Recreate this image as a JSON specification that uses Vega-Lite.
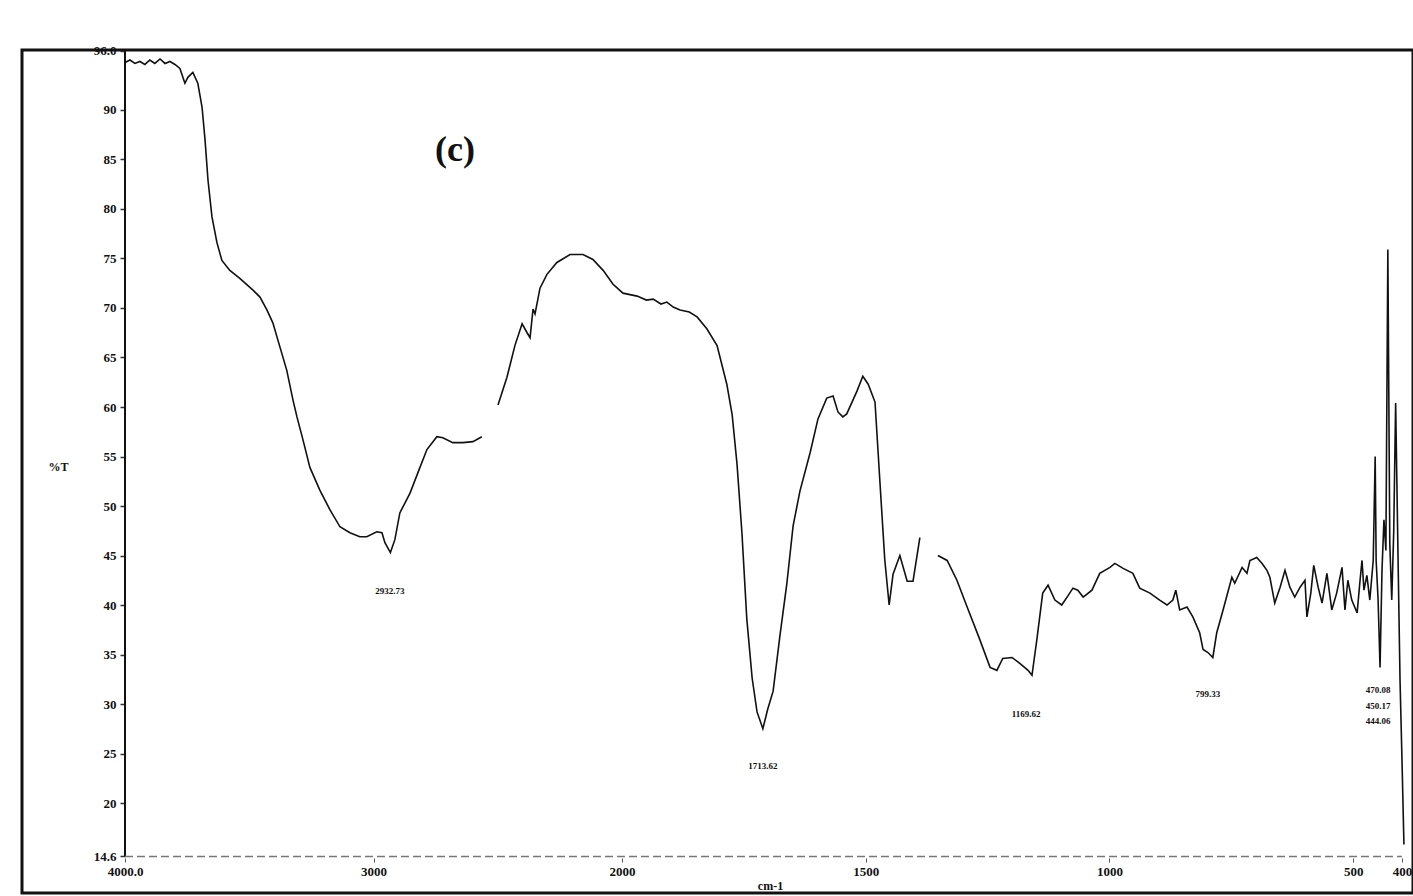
{
  "$schema": "https://vega.github.io/schema/vega-lite/v6.json",
  "autosize": {"type": "none"},
  "padding": {"left": 22, "top": 50, "right": 0, "bottom": 3},
  "width": 1391,
  "height": 843,
  "background": "white",
  "config": {
    "font": "Liberation Serif",
    "view": {"stroke": "#111", "strokeWidth": 3},
    "axis": {"grid": false, "labelFont": "Liberation Serif", "titleFont": "Liberation Serif", "labelFontWeight": "bold", "titleFontWeight": "bold", "labelColor": "#111", "titleColor": "#111", "tickColor": "#222"}
  },
  "datasets": {
    "spectrum": [
      {"wn": 4000, "t": 94.8, "seg": 1}, {"wn": 3980, "t": 95.05, "seg": 1}, {"wn": 3960, "t": 94.7, "seg": 1}, {"wn": 3940, "t": 94.9, "seg": 1},
      {"wn": 3920, "t": 94.6, "seg": 1}, {"wn": 3900, "t": 95.05, "seg": 1}, {"wn": 3880, "t": 94.7, "seg": 1}, {"wn": 3859, "t": 95.15, "seg": 1},
      {"wn": 3839, "t": 94.7, "seg": 1}, {"wn": 3819, "t": 94.9, "seg": 1}, {"wn": 3799, "t": 94.6, "seg": 1}, {"wn": 3779, "t": 94.2, "seg": 1},
      {"wn": 3759, "t": 92.7, "seg": 1}, {"wn": 3747, "t": 93.3, "seg": 1}, {"wn": 3727, "t": 93.8, "seg": 1}, {"wn": 3707, "t": 92.7, "seg": 1},
      {"wn": 3690, "t": 90.3, "seg": 1}, {"wn": 3678, "t": 87.0, "seg": 1}, {"wn": 3666, "t": 82.9, "seg": 1}, {"wn": 3650, "t": 79.2, "seg": 1},
      {"wn": 3630, "t": 76.6, "seg": 1}, {"wn": 3610, "t": 74.8, "seg": 1}, {"wn": 3578, "t": 73.8, "seg": 1}, {"wn": 3538, "t": 73.0, "seg": 1},
      {"wn": 3485, "t": 71.8, "seg": 1}, {"wn": 3457, "t": 71.1, "seg": 1}, {"wn": 3429, "t": 69.8, "seg": 1}, {"wn": 3405, "t": 68.5, "seg": 1},
      {"wn": 3377, "t": 66.1, "seg": 1}, {"wn": 3349, "t": 63.7, "seg": 1}, {"wn": 3324, "t": 60.7, "seg": 1}, {"wn": 3308, "t": 59.0, "seg": 1},
      {"wn": 3284, "t": 56.7, "seg": 1}, {"wn": 3256, "t": 53.9, "seg": 1}, {"wn": 3216, "t": 51.6, "seg": 1}, {"wn": 3175, "t": 49.6, "seg": 1},
      {"wn": 3135, "t": 47.9, "seg": 1}, {"wn": 3095, "t": 47.3, "seg": 1}, {"wn": 3055, "t": 46.9, "seg": 1}, {"wn": 3027, "t": 46.9, "seg": 1},
      {"wn": 2987, "t": 47.4, "seg": 1}, {"wn": 2966, "t": 47.3, "seg": 1}, {"wn": 2954, "t": 46.3, "seg": 1}, {"wn": 2932, "t": 45.3, "seg": 1},
      {"wn": 2914, "t": 46.6, "seg": 1}, {"wn": 2894, "t": 49.3, "seg": 1}, {"wn": 2853, "t": 51.3, "seg": 1}, {"wn": 2813, "t": 53.9, "seg": 1},
      {"wn": 2785, "t": 55.7, "seg": 1}, {"wn": 2745, "t": 57.0, "seg": 1}, {"wn": 2721, "t": 56.9, "seg": 1}, {"wn": 2681, "t": 56.4, "seg": 1},
      {"wn": 2640, "t": 56.4, "seg": 1}, {"wn": 2600, "t": 56.5, "seg": 1}, {"wn": 2564, "t": 57.0, "seg": 1},
      {"wn": 2499, "t": 60.2, "seg": 2}, {"wn": 2463, "t": 63.0, "seg": 2}, {"wn": 2431, "t": 66.2, "seg": 2}, {"wn": 2402, "t": 68.4, "seg": 2},
      {"wn": 2382, "t": 67.5, "seg": 2}, {"wn": 2370, "t": 67.0, "seg": 2}, {"wn": 2358, "t": 69.9, "seg": 2}, {"wn": 2350, "t": 69.4, "seg": 2},
      {"wn": 2330, "t": 72.0, "seg": 2}, {"wn": 2302, "t": 73.4, "seg": 2}, {"wn": 2262, "t": 74.6, "seg": 2}, {"wn": 2209, "t": 75.4, "seg": 2},
      {"wn": 2157, "t": 75.4, "seg": 2}, {"wn": 2117, "t": 74.9, "seg": 2}, {"wn": 2076, "t": 73.8, "seg": 2}, {"wn": 2036, "t": 72.4, "seg": 2},
      {"wn": 1998, "t": 71.5, "seg": 2}, {"wn": 1969, "t": 71.2, "seg": 2}, {"wn": 1950, "t": 70.8, "seg": 2}, {"wn": 1936, "t": 70.9, "seg": 2},
      {"wn": 1920, "t": 70.4, "seg": 2}, {"wn": 1908, "t": 70.6, "seg": 2}, {"wn": 1895, "t": 70.1, "seg": 2}, {"wn": 1881, "t": 69.8, "seg": 2},
      {"wn": 1862, "t": 69.6, "seg": 2}, {"wn": 1846, "t": 69.1, "seg": 2}, {"wn": 1826, "t": 67.9, "seg": 2}, {"wn": 1805, "t": 66.2, "seg": 2},
      {"wn": 1785, "t": 62.3, "seg": 2}, {"wn": 1774, "t": 59.2, "seg": 2}, {"wn": 1764, "t": 54.2, "seg": 2}, {"wn": 1754, "t": 47.3, "seg": 2},
      {"wn": 1744, "t": 38.6, "seg": 2}, {"wn": 1733, "t": 32.6, "seg": 2}, {"wn": 1723, "t": 29.2, "seg": 2}, {"wn": 1711, "t": 27.5, "seg": 2},
      {"wn": 1701, "t": 29.5, "seg": 2}, {"wn": 1690, "t": 31.3, "seg": 2}, {"wn": 1676, "t": 36.9, "seg": 2}, {"wn": 1662, "t": 42.1, "seg": 2},
      {"wn": 1649, "t": 48.0, "seg": 2}, {"wn": 1635, "t": 51.5, "seg": 2}, {"wn": 1614, "t": 55.4, "seg": 2}, {"wn": 1598, "t": 58.8, "seg": 2},
      {"wn": 1580, "t": 60.9, "seg": 2}, {"wn": 1567, "t": 61.1, "seg": 2}, {"wn": 1557, "t": 59.5, "seg": 2}, {"wn": 1547, "t": 59.0, "seg": 2},
      {"wn": 1539, "t": 59.3, "seg": 2}, {"wn": 1518, "t": 61.6, "seg": 2}, {"wn": 1506, "t": 63.1, "seg": 2}, {"wn": 1495, "t": 62.3, "seg": 2},
      {"wn": 1481, "t": 60.5, "seg": 2}, {"wn": 1471, "t": 52.5, "seg": 2}, {"wn": 1461, "t": 44.6, "seg": 2}, {"wn": 1452, "t": 40.0, "seg": 2},
      {"wn": 1444, "t": 43.1, "seg": 2}, {"wn": 1430, "t": 45.0, "seg": 2}, {"wn": 1415, "t": 42.4, "seg": 2}, {"wn": 1403, "t": 42.4, "seg": 2},
      {"wn": 1389, "t": 46.8, "seg": 2},
      {"wn": 1352, "t": 45.0, "seg": 3}, {"wn": 1333, "t": 44.5, "seg": 3}, {"wn": 1313, "t": 42.5, "seg": 3}, {"wn": 1292, "t": 39.8, "seg": 3},
      {"wn": 1266, "t": 36.5, "seg": 3}, {"wn": 1245, "t": 33.7, "seg": 3}, {"wn": 1231, "t": 33.4, "seg": 3}, {"wn": 1219, "t": 34.6, "seg": 3},
      {"wn": 1200, "t": 34.7, "seg": 3}, {"wn": 1184, "t": 34.1, "seg": 3}, {"wn": 1167, "t": 33.4, "seg": 3}, {"wn": 1159, "t": 32.9, "seg": 3},
      {"wn": 1149, "t": 36.5, "seg": 3}, {"wn": 1137, "t": 41.2, "seg": 3}, {"wn": 1126, "t": 42.0, "seg": 3}, {"wn": 1112, "t": 40.5, "seg": 3},
      {"wn": 1098, "t": 40.0, "seg": 3}, {"wn": 1087, "t": 40.8, "seg": 3}, {"wn": 1075, "t": 41.7, "seg": 3}, {"wn": 1065, "t": 41.5, "seg": 3},
      {"wn": 1054, "t": 40.8, "seg": 3}, {"wn": 1036, "t": 41.5, "seg": 3}, {"wn": 1020, "t": 43.2, "seg": 3}, {"wn": 999, "t": 43.8, "seg": 3},
      {"wn": 989, "t": 44.2, "seg": 3}, {"wn": 972, "t": 43.7, "seg": 3}, {"wn": 952, "t": 43.2, "seg": 3}, {"wn": 938, "t": 41.7, "seg": 3},
      {"wn": 917, "t": 41.2, "seg": 3}, {"wn": 897, "t": 40.5, "seg": 3}, {"wn": 882, "t": 40.0, "seg": 3}, {"wn": 870, "t": 40.5, "seg": 3},
      {"wn": 864, "t": 41.5, "seg": 3}, {"wn": 856, "t": 39.5, "seg": 3}, {"wn": 841, "t": 39.8, "seg": 3}, {"wn": 829, "t": 38.8, "seg": 3},
      {"wn": 815, "t": 37.2, "seg": 3}, {"wn": 808, "t": 35.5, "seg": 3}, {"wn": 798, "t": 35.2, "seg": 3}, {"wn": 788, "t": 34.7, "seg": 3},
      {"wn": 780, "t": 37.2, "seg": 3}, {"wn": 767, "t": 39.5, "seg": 3}, {"wn": 749, "t": 42.8, "seg": 3}, {"wn": 743, "t": 42.2, "seg": 3},
      {"wn": 728, "t": 43.8, "seg": 3}, {"wn": 718, "t": 43.2, "seg": 3}, {"wn": 712, "t": 44.5, "seg": 3}, {"wn": 698, "t": 44.8, "seg": 3},
      {"wn": 687, "t": 44.2, "seg": 3}, {"wn": 677, "t": 43.5, "seg": 3}, {"wn": 671, "t": 42.8, "seg": 3}, {"wn": 661, "t": 40.2, "seg": 3},
      {"wn": 650, "t": 41.8, "seg": 3}, {"wn": 640, "t": 43.5, "seg": 3}, {"wn": 630, "t": 41.8, "seg": 3}, {"wn": 620, "t": 40.8, "seg": 3},
      {"wn": 609, "t": 41.8, "seg": 3}, {"wn": 599, "t": 42.5, "seg": 3}, {"wn": 595, "t": 38.8, "seg": 3}, {"wn": 587, "t": 41.2, "seg": 3},
      {"wn": 581, "t": 44.0, "seg": 3}, {"wn": 572, "t": 41.8, "seg": 3}, {"wn": 564, "t": 40.2, "seg": 3}, {"wn": 554, "t": 43.2, "seg": 3},
      {"wn": 544, "t": 39.5, "seg": 3}, {"wn": 534, "t": 41.2, "seg": 3}, {"wn": 523, "t": 43.8, "seg": 3}, {"wn": 517, "t": 39.5, "seg": 3},
      {"wn": 511, "t": 42.5, "seg": 3}, {"wn": 503, "t": 40.5, "seg": 3}, {"wn": 492, "t": 39.2, "seg": 3}, {"wn": 486, "t": 42.5, "seg": 3},
      {"wn": 482, "t": 44.5, "seg": 3}, {"wn": 478, "t": 41.5, "seg": 3}, {"wn": 472, "t": 43.0, "seg": 3}, {"wn": 466, "t": 40.5, "seg": 3},
      {"wn": 459, "t": 44.5, "seg": 3}, {"wn": 455, "t": 55.0, "seg": 3}, {"wn": 453, "t": 44.5, "seg": 3}, {"wn": 449, "t": 40.5, "seg": 3},
      {"wn": 445, "t": 33.7, "seg": 3}, {"wn": 441, "t": 43.5, "seg": 3}, {"wn": 437, "t": 48.6, "seg": 3}, {"wn": 433, "t": 45.5, "seg": 3},
      {"wn": 429, "t": 75.9, "seg": 3}, {"wn": 425, "t": 46.2, "seg": 3}, {"wn": 421, "t": 40.5, "seg": 3}, {"wn": 417, "t": 47.3, "seg": 3},
      {"wn": 413, "t": 60.4, "seg": 3}, {"wn": 408, "t": 44.5, "seg": 3}, {"wn": 404, "t": 32.4, "seg": 3}, {"wn": 400, "t": 24.4, "seg": 3},
      {"wn": 396, "t": 15.8, "seg": 3}
    ],
    "peaks": [
      {"wn": 2934, "t": 41.4, "label": "2932.73"},
      {"wn": 1711, "t": 23.7, "label": "1713.62"},
      {"wn": 1171, "t": 29.0, "label": "1169.62"},
      {"wn": 798, "t": 31.0, "label": "799.33"},
      {"wn": 449, "t": 31.4, "label": "470.08"},
      {"wn": 449, "t": 29.8, "label": "450.17"},
      {"wn": 449, "t": 28.3, "label": "444.06"}
    ]
  },
  "encoding": {
    "x": {"field": "wn", "type": "quantitative",
      "scale": {"domain": [4414.5, 2000, 377.4], "range": [0, 600, 1391], "nice": false, "zero": false},
      "axis": {"values": [4000, 3000, 2000, 1500, 1000, 500, 400], "labelExpr": "datum.value == 4000 ? '4000.0' : '' + datum.value", "offset": -35, "domain": false, "tickSize": 4, "tickColor": "#555", "labelFontSize": 13, "labelPadding": 3, "labelOverlap": false, "labelFlush": false, "title": "cm-1", "titleFontSize": 12, "titleX": 748, "titleY": 31, "titleBaseline": "alphabetic", "titleAlign": "center"}},
    "y": {"field": "t", "type": "quantitative",
      "scale": {"domain": [10.91, 96.06], "nice": false, "zero": false},
      "axis": {"values": [14.6, 20, 25, 30, 35, 40, 45, 50, 55, 60, 65, 70, 75, 80, 85, 90, 96], "labelExpr": "datum.value == 96 ? '96.0' : '' + datum.value", "offset": -103, "domain": false, "tickSize": 5, "tickWidth": 1.5, "tickColor": "#333", "labelFontSize": 13, "labelPadding": 4, "labelOverlap": false, "labelFlush": false, "title": "%T", "titleFontSize": 12, "titleAngle": 0, "titleX": -67, "titleY": 416, "titleAlign": "center", "titleBaseline": "middle"}}
  },
  "layer": [
    {
      "data": {"values": [{"wn": 4000, "t": 14.6, "t2": 96.06}]},
      "mark": {"type": "rule", "stroke": "#111", "strokeWidth": 2},
      "encoding": {"y2": {"field": "t2"}}
    },
    {
      "data": {"values": [{"wn": 4000, "wn2": 400, "t": 14.6}]},
      "mark": {"type": "rule", "stroke": "#777", "strokeWidth": 1.5, "strokeDash": [8, 4]},
      "encoding": {"x2": {"field": "wn2"}}
    },
    {
      "data": {"name": "spectrum"},
      "mark": {"type": "line", "stroke": "#111", "strokeWidth": 1.6, "clip": true},
      "encoding": {"detail": {"field": "seg", "type": "nominal"}}
    },
    {
      "data": {"name": "peaks"},
      "mark": {"type": "text", "font": "Liberation Serif", "fontWeight": "bold", "fontSize": 9, "color": "#111", "align": "center", "baseline": "middle"},
      "encoding": {"text": {"field": "label"}}
    },
    {
      "data": {"values": [{"wn": 2672, "t": 86.0, "label": "(c)"}]},
      "mark": {"type": "text", "font": "Liberation Serif", "fontWeight": "bold", "fontSize": 36, "color": "#111", "align": "center", "baseline": "middle"},
      "encoding": {"text": {"field": "label"}}
    }
  ]
}
